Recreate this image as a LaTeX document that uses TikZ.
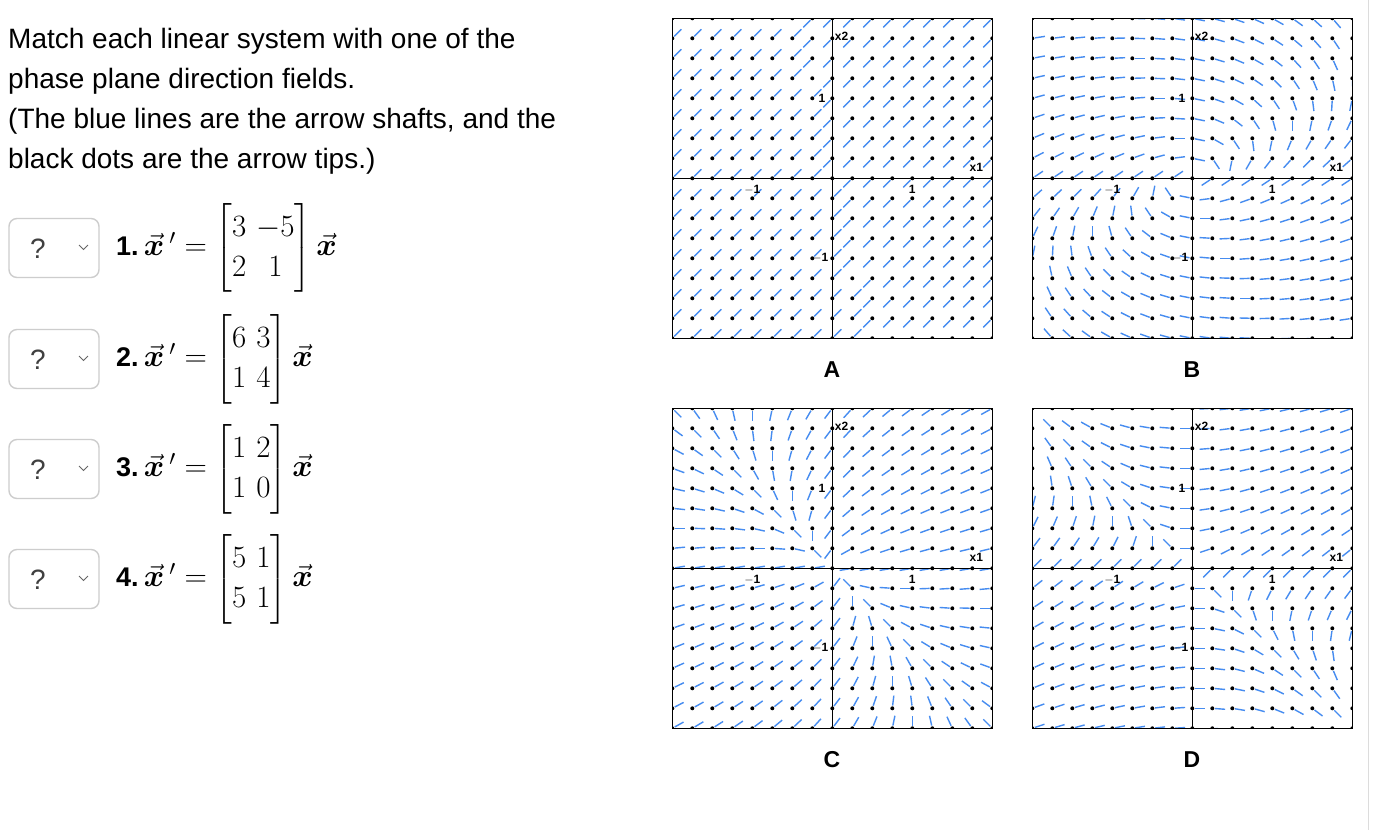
\documentclass[tikz,border=0pt]{standalone}
\usepackage{fix-cm}
\usepackage{amsmath,bm}
\usepackage{fontspec}
\setmainfont{Liberation Sans}
\setsansfont{Liberation Sans}
\definecolor{shaft}{RGB}{70,140,240}
\definecolor{boxgray}{RGB}{205,205,205}
\newcommand{\vx}{\vec{\bm{x}}}
\newcommand{\fieldplot}[6]{%
\begin{scope}[shift={(#1,#2)},x=80pt,y=80pt]
  \begin{scope}
  \clip (-2,-2) rectangle (2,2);
  \foreach \i in {-8,...,8}{\foreach \j in {-8,...,8}{%
    \pgfmathsetmacro{\px}{\i*0.25}\pgfmathsetmacro{\py}{\j*0.25}%
    \pgfmathsetmacro{\ux}{#3*\px+#4*\py}\pgfmathsetmacro{\uy}{#5*\px+#6*\py}%
    \pgfmathsetmacro{\nn}{sqrt(\ux*\ux+\uy*\uy)}%
    \ifdim\nn pt>0.0001pt
      \pgfmathsetmacro{\dx}{\ux/\nn}\pgfmathsetmacro{\dy}{\uy/\nn}%
      \draw[shaft,line width=1.4pt] ({\px-0.035*\dx},{\py-0.035*\dy}) -- ({\px-0.16*\dx},{\py-0.16*\dy});
    \fi
    \fill (\px,\py) circle (2pt);
  }}
  \end{scope}
  \draw[line width=1pt] (-2,0) -- (2,0) (0,-2) -- (0,2);
  \draw[line width=1pt] (-2,-2) rectangle (2,2);
  \node[lab,anchor=west] at (0.03,1.78) {x2};
  \node[lab] at (1.8,0.14) {x1};
  \node[lab] at (-0.13,1) {1};
  \node[lab] at (-0.15,-1) {$-$1};
  \node[lab] at (-1,-0.14) {$-$1};
  \node[lab] at (1,-0.14) {1};
\end{scope}}
\begin{document}
\begin{tikzpicture}[x=1pt,y=-1pt,
  lab/.style={font=\fontsize{12}{12}\selectfont\bfseries,inner sep=0pt},
  ttl/.style={font=\fontsize{23}{23}\selectfont\bfseries},
  txt/.style={font=\fontsize{28}{32}\selectfont,anchor=base west,inner sep=0pt},
  dd/.style={draw=boxgray,line width=1.4pt,rounded corners=8pt,minimum width=90pt,minimum height=59pt},
  eq/.style={font=\fontsize{31}{40}\selectfont,anchor=west,inner sep=0pt}]
\useasboundingbox[fill=white] (0,0) rectangle (1386,830);
\draw[boxgray!70,line width=1pt] (1368,0) -- (1368,830);
\node[txt] (t1) at (8,48) {Match each linear system with one of the};
\node[txt] (t2) at (8,88) {phase plane direction fields.};
\node[txt] (t3) at (8,128) {(The blue lines are the arrow shafts, and the};
\node[txt] (t4) at (8,168) {black dots are the arrow tips.)};
\foreach \k/\y/\a/\b/\c/\d in {1/248/3/-5/2/1,2/359/6/3/1/4,3/469/1/2/1/0,4/579/5/1/5/1}{
  \node[dd] (box\k) at (54,\y) {};
  \node[font=\fontsize{28}{28}\selectfont,text=black!75] (q\k) at (38,\y+1) {?};
  \draw[black!60,line width=1pt] (79,\y-3) -- (83.5,\y+1.5) -- (88,\y-3);
  \node[eq] (e\k) at (116,\y) {{\bfseries\fontsize{27}{27}\selectfont\k.}\,$\vx\,'=\begin{bmatrix}\a & \b\\ \c & \d\end{bmatrix}\vx$};
}
\fieldplot{832.3}{178.3}{5}{1}{5}{1}
\fieldplot{1192.3}{178.3}{3}{-5}{2}{1}
\fieldplot{832.3}{568.3}{6}{3}{1}{4}
\fieldplot{1192.3}{568.3}{1}{2}{1}{0}
\node[ttl] (A) at (832,370) {A};
\node[ttl] (B) at (1192,370) {B};
\node[ttl] (C) at (832,760) {C};
\node[ttl] (D) at (1192,760) {D};
\end{tikzpicture}
\end{document}
